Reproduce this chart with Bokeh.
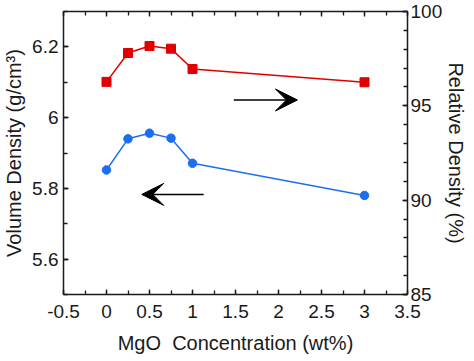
from bokeh.plotting import figure
from bokeh.models import (Range1d, LinearAxis, FixedTicker, CustomJSTickFormatter,
                          Arrow, VeeHead)
from bokeh.embed import file_html
from bokeh.resources import INLINE

# ---- data ----
mgo_wt = [0.0, 0.25, 0.5, 0.75, 1.0, 3.0]
volume_density = [5.852, 5.940, 5.956, 5.942, 5.871, 5.780]
relative_density = [96.27, 97.80, 98.17, 98.03, 96.95, 96.25]

x_major = [-0.5, 0.0, 0.5, 1.0, 1.5, 2.0, 2.5, 3.0, 3.5]
x_minor = [-0.5 + 0.25 * i for i in range(17)]
yl_major = [5.6, 5.8, 6.0, 6.2]
yl_minor = [5.5 + 0.1 * i for i in range(9)]
yr_major = [85, 90, 95, 100]
yr_minor = list(range(85, 101))

# arrow annotations (data coords)
arrow_right_x = [1.48, 2.22]
arrow_right_y = [95.31, 95.31]
arrow_left_x = [1.13, 0.41]
arrow_left_y = [5.783, 5.783]

RED = "#e00000"
BLUE = "#1c6ef0"
FONT = "Liberation Sans"
INK = "#1a1a1a"

p = figure(frame_width=344, frame_height=283, width=458, height=345,
           x_range=Range1d(-0.5, 3.5), y_range=Range1d(5.5, 6.3),
           output_backend="svg", toolbar_location=None,
           min_border_left=59, min_border_right=55, min_border_top=11,
           min_border_bottom=51, x_axis_location=None, y_axis_location=None)
p.extra_y_ranges = {"rel": Range1d(85, 100)}
p.xgrid.visible = False
p.ygrid.visible = False
p.outline_line_color = None
p.background_fill_color = "white"
p.border_fill_color = "white"

fmt = CustomJSTickFormatter(code="return String(Number(tick.toFixed(2)));")
blank_fmt = CustomJSTickFormatter(code="return '';")


def style(ax):
    ax.axis_line_color = INK
    ax.axis_line_width = 1.5
    ax.major_tick_line_color = INK
    ax.minor_tick_line_color = INK
    ax.major_tick_line_width = 1.3
    ax.minor_tick_line_width = 1.3
    ax.major_tick_in = 5
    ax.major_tick_out = 0
    ax.minor_tick_in = 4
    ax.minor_tick_out = 0
    ax.formatter = fmt
    ax.major_label_text_font = FONT
    ax.major_label_text_font_size = "19px"
    ax.major_label_text_color = INK
    ax.axis_label_text_font = FONT
    ax.axis_label_text_font_size = "20px"
    ax.axis_label_text_font_style = "normal"
    ax.axis_label_text_color = INK


xb = LinearAxis(ticker=FixedTicker(ticks=x_major, minor_ticks=x_minor),
                axis_label="MgO\u00a0\u00a0Concentration (wt%)")
style(xb)
xb.major_label_standoff = 10
xb.axis_label_standoff = 11
p.add_layout(xb, "below")

xt = LinearAxis(ticker=FixedTicker(ticks=x_major, minor_ticks=x_minor))
style(xt)
xt.formatter = blank_fmt
xt.major_label_text_font_size = "1px"
xt.major_label_standoff = 0
p.add_layout(xt, "above")

yl = LinearAxis(ticker=FixedTicker(ticks=yl_major, minor_ticks=yl_minor),
                axis_label="Volume Density (g/cm\u00b3)")
style(yl)
yl.major_label_standoff = 5
yl.axis_label_standoff = 4
p.add_layout(yl, "left")

yr = LinearAxis(y_range_name="rel",
                ticker=FixedTicker(ticks=yr_major, minor_ticks=yr_minor),
                axis_label="Relative Density (%)")
style(yr)
yr.major_label_standoff = 3
yr.axis_label_standoff = 0
p.add_layout(yr, "right")

# relative density (right axis) - red squares
p.line(mgo_wt, relative_density, y_range_name="rel", line_color=RED, line_width=1.5)
p.scatter(mgo_wt, relative_density, y_range_name="rel", marker="square", size=9,
          fill_color=RED, line_color=RED)

# volume density (left axis) - blue circles
p.line(mgo_wt, volume_density, line_color=BLUE, line_width=1.5)
p.scatter(mgo_wt, volume_density, marker="circle", size=8.5,
          fill_color=BLUE, line_color=BLUE)

p.add_layout(Arrow(end=VeeHead(size=22, fill_color="black", line_color="black"),
                   x_start=arrow_right_x[0], y_start=arrow_right_y[0],
                   x_end=arrow_right_x[1], y_end=arrow_right_y[1],
                   y_range_name="rel", line_color="black", line_width=1.5))
p.add_layout(Arrow(end=VeeHead(size=22, fill_color="black", line_color="black"),
                   x_start=arrow_left_x[0], y_start=arrow_left_y[0],
                   x_end=arrow_left_x[1], y_end=arrow_left_y[1],
                   line_color="black", line_width=1.5))

open("out.html", "w").write(file_html(p, INLINE))
